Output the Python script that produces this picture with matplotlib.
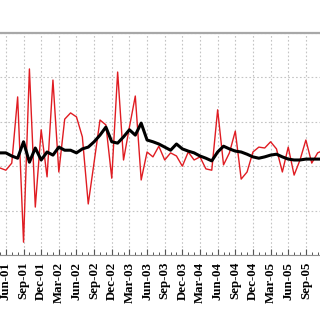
import matplotlib
matplotlib.use("Agg")
import matplotlib.pyplot as plt
import numpy as np

# months counted from Jan-2001 (0 = Jan-01), monthly series May-01 .. Dec-05
months = np.arange(4, 60)

monthly = [1.96, 1.91, 2.07, 3.56, 0.29, 4.19, 1.08, 2.82, 1.76, 3.94,
           1.87, 3.06, 3.20, 3.11, 2.66, 1.15, 2.09, 3.04, 2.93, 1.73,
           4.12, 2.14, 2.88, 3.58, 1.69, 2.32, 2.21, 2.45, 2.14, 2.30,
           2.23, 2.00, 2.32, 2.14, 2.21, 1.94, 1.91, 3.27, 2.03, 2.30,
           2.79, 1.71, 1.87, 2.32, 2.43, 2.41, 2.55, 2.39, 1.87, 2.43,
           1.80, 2.14, 2.59, 2.07, 2.30, 2.36]

smoothed = [2.30, 2.30, 2.23, 2.18, 2.55, 2.09, 2.41, 2.14, 2.32, 2.25,
            2.43, 2.36, 2.36, 2.30, 2.39, 2.43, 2.55, 2.70, 2.88, 2.55,
            2.52, 2.66, 2.82, 2.70, 2.97, 2.59, 2.55, 2.50, 2.43, 2.36,
            2.50, 2.39, 2.34, 2.30, 2.23, 2.18, 2.12, 2.32, 2.45, 2.39,
            2.34, 2.32, 2.27, 2.21, 2.18, 2.21, 2.25, 2.27, 2.21, 2.16,
            2.14, 2.14, 2.16, 2.16, 2.16, 2.16]

tick_months = np.arange(5, 57, 3)
tick_labels = ['Jun-01', 'Sep-01', 'Dec-01', 'Mar-02', 'Jun-02', 'Sep-02',
               'Dec-02', 'Mar-03', 'Jun-03', 'Sep-03', 'Dec-03', 'Mar-04',
               'Jun-04', 'Sep-04', 'Dec-04', 'Mar-05', 'Jun-05', 'Sep-05']

fig = plt.figure(figsize=(3.2, 3.2), dpi=100)
ax = fig.add_axes([0, 0.203, 1, 0.694])

ax.plot(months, monthly, color='#e01c22', lw=1.0, zorder=3)
ax.plot(months, smoothed, color='black', lw=2.2, zorder=4)

ax.set_xlim(4.15, 58.4)
ax.set_ylim(0, 5)

ax.set_xticks(tick_months)
ax.set_xticklabels(tick_labels, rotation=90, fontsize=9.3, fontweight='bold',
                   family='Liberation Serif')
ax.set_xticks(np.arange(4, 59), minor=True)
ax.set_yticks(np.arange(0, 6))
ax.tick_params(axis='y', left=False, labelleft=False)
ax.tick_params(axis='x', which='both', direction='in', color='#555555', pad=5)
ax.tick_params(axis='x', which='major', length=4, width=0.8)
ax.tick_params(axis='x', which='minor', length=2.5, width=0.7)

ax.grid(True, color='#c4c4c4', linestyle=(0, (1.5, 2)), lw=0.8)
ax.set_axisbelow(True)

for side in ['left', 'right']:
    ax.spines[side].set_visible(False)
ax.spines['top'].set_color('#a8a8a8')
ax.spines['top'].set_linewidth(1.6)
ax.spines['bottom'].set_color('#909090')
ax.spines['bottom'].set_linewidth(0.8)

fig.savefig('out.png', dpi=100)
